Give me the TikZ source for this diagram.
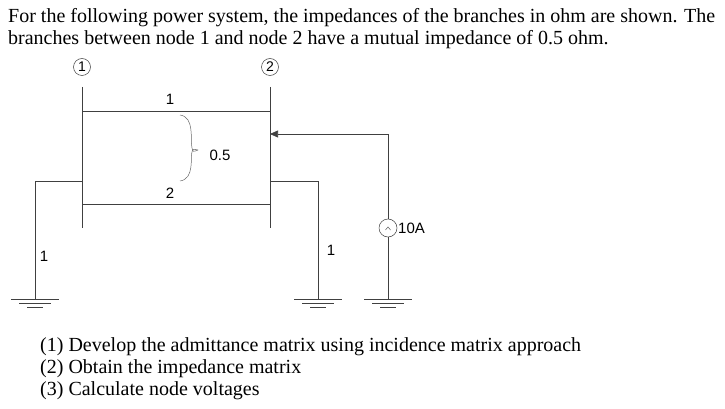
\documentclass[tikz,border=0pt]{standalone}
\usepackage{fontspec}
\setmainfont{Liberation Serif}
\newfontfamily\arial{Liberation Sans}
\usetikzlibrary{arrows.meta,calc}
\begin{document}
\begin{tikzpicture}[x=1pt,y=-1pt,
  wire/.style={draw=black!75,line width=0.6pt},
  lbl/.style={font=\arial\fontsize{15}{17}\selectfont,inner sep=0},
  txt/.style={font=\fontsize{20}{24}\selectfont,inner sep=0,anchor=west},
  bnode/.style={circle,draw=black!75,line width=0.5pt,minimum size=17pt,inner sep=0,font=\arial\fontsize{14}{16}\selectfont}]
\useasboundingbox (0,0) rectangle (725,409);
\node[txt] (t1) at (8,18) {For the following power system, the impedances of the branches in ohm are shown. The};
\node[txt] (t2) at (8,40) {branches between node 1 and node 2 have a mutual impedance of 0.5 ohm.};
\node[txt] (q1) at (40,347) {(1) Develop the admittance matrix using incidence matrix approach};
\node[txt] (q2) at (40,369) {(2) Obtain the impedance matrix};
\node[txt] (q3) at (40,391) {(3) Calculate node voltages};
\node[bnode] (n1) at (82,67) {1};
\node[bnode] (n2) at (270,67) {2};
% buses
\coordinate (b1t) at (82,87); \coordinate (b1b) at (82,228);
\coordinate (b2t) at (270,87); \coordinate (b2b) at (270,228);
\draw[wire] (b1t) -- (b1b);
\draw[wire] (b2t) -- (b2b);
% branches
\coordinate (a1) at (82,111); \coordinate (a2) at (270,111);
\coordinate (c1) at (82,204); \coordinate (c2) at (270,204);
\draw[wire] (a1) -- (a2);
\draw[wire] (c1) -- (c2);
\node[lbl] (l1) at (170,99) {1};
\node[lbl] (l2) at (170,193) {2};
\draw[black!60,line width=0.5pt] (180,115) .. controls (195,117) and (190,140) .. (192,148) .. controls (193,152) .. (198,150);
\draw[black!60,line width=0.5pt] (180,181) .. controls (195,179) and (190,156) .. (192,152) .. controls (193,149) .. (198,150);
\node[lbl] (l05) at (220,155) {0.5};
% ground branches
\coordinate (g1a) at (82,181); \coordinate (g1b) at (35,181); \coordinate (g1) at (35,299);
\draw[wire] (g1a) -- (g1b) -- (g1);
\coordinate (g2a) at (270,181); \coordinate (g2b) at (318,181); \coordinate (g2) at (318,299);
\draw[wire] (g2a) -- (g2b) -- (g2);
\node[lbl] (l3) at (44,256) {1};
\node[lbl] (l4) at (331,250) {1};
% source
\coordinate (s) at (388,299); \coordinate (st) at (388,134); \coordinate (sa) at (270,134);
\node[circle,draw=black!75,line width=0.5pt,minimum size=18pt,inner sep=0] (src) at (388,228) {};
\draw[wire] (s) -- (src.south);
\draw[wire,-{Triangle[length=8pt,width=7pt]}] (src.north) -- (st) -- (sa);
\draw[black!75,line width=0.4pt] ($(src.center)+(-2.5,2)$) -- ($(src.center)+(0,-1)$) -- ($(src.center)+(2.5,2)$);
\node[lbl,anchor=west] (l10) at (398,228) {10A};
% grounds
\foreach \g in {g1,g2,s}{
  \draw[wire] ($(\g)+(-24,0)$) -- ($(\g)+(24,0)$);
  \draw[wire] ($(\g)+(-16,4)$) -- ($(\g)+(16,4)$);
  \draw[wire] ($(\g)+(-8,8)$) -- ($(\g)+(8,8)$);
}
\end{tikzpicture}
\end{document}
